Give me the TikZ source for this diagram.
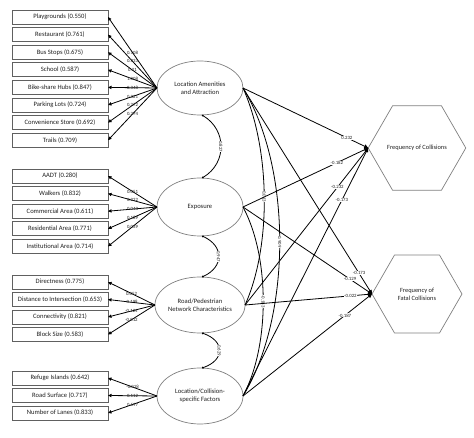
\documentclass[tikz,border=0pt]{standalone}
\usepackage{fontspec}
\setmainfont{Carlito}
\usetikzlibrary{shapes.geometric,arrows.meta}
\definecolor{boxgray}{HTML}{606060}
\definecolor{elgray}{HTML}{808080}
\definecolor{txt}{HTML}{202020}
\begin{document}
\begin{tikzpicture}[x=1pt,y=-1pt,
  box/.style={draw=boxgray,line width=0.75pt,minimum width=96pt,minimum height=14pt,inner sep=0pt,outer sep=0pt,text=txt,font=\fontsize{6.6}{8}\selectfont},
  latent/.style={ellipse,draw=elgray,line width=0.7pt,minimum width=86pt,inner sep=0pt,outer sep=0pt,align=center,text=txt,font=\fontsize{6.6}{8}\selectfont},
  hexa/.style={regular polygon,regular polygon sides=6,minimum size=90pt,draw=elgray,line width=0.7pt,inner sep=0pt,outer sep=0pt,align=center,text=txt,font=\fontsize{6.4}{8}\selectfont},
  meas/.style={draw=black,line width=0.8pt,-{Triangle[length=3.5pt,width=3.2pt]}},
  struct/.style={draw=black,line width=0.8pt,-{Triangle[length=4pt,width=3.8pt]}},
  corr/.style={draw=black,line width=0.8pt,{Circle[open,length=2pt]}-{Circle[open,length=2pt]}},
  rcorr/.style={draw=black,line width=0.8pt},
  lbl/.style={font=\fontsize{4.8}{5}\selectfont,text=txt,inner sep=0.4pt},
  flbl/.style={font=\fontsize{4.8}{5}\selectfont,text=txt,inner sep=0.4pt,fill=white},
  rlbl/.style={font=\fontsize{4.8}{5}\selectfont,text=txt,inner sep=0.4pt,fill=white,rotate=-90}
]
\useasboundingbox (0,0) rectangle (474,438);
\fill[white] (0,0) rectangle (474,438);

% indicator boxes
\node[box] (a1) at (60,17) {Playgrounds (0.550)};
\node[box] (a2) at (60,34.6) {Restaurant (0.761)};
\node[box] (a3) at (60,52.2) {Bus Stops (0.675)};
\node[box] (a4) at (60,69.8) {School (0.587)};
\node[box] (a5) at (60,87.4) {Bike-share Hubs (0.847)};
\node[box] (a6) at (60,105) {Parking Lots (0.724)};
\node[box] (a7) at (60,122.6) {Convenience Store (0.692)};
\node[box] (a8) at (60,140.2) {Trails (0.709)};

\node[box] (e1) at (60,176) {AADT (0.280)};
\node[box] (e2) at (60,193.6) {Walkers (0.832)};
\node[box] (e3) at (60,211.2) {Commercial Area (0.611)};
\node[box] (e4) at (60,228.8) {Residential Area (0.771)};
\node[box] (e5) at (60,246.4) {Institutional Area (0.714)};

\node[box] (r1) at (60,282) {Directness (0.775)};
\node[box] (r2) at (60,299.5) {Distance to Intersection (0.653)};
\node[box] (r3) at (60,317) {Connectivity (0.821)};
\node[box] (r4) at (60,334.5) {Block Size (0.583)};

\node[box] (l1) at (60,378) {Refuge Islands (0.642)};
\node[box] (l2) at (60,395.5) {Road Surface (0.717)};
\node[box] (l3) at (60,413) {Number of Lanes (0.833)};

% latent variables
\node[latent,minimum height=54pt] (LA) at (200,88) {Location Amenities\\and Attraction};
\node[latent,minimum height=58pt] (EX) at (200,207) {Exposure};
\node[latent,minimum height=56pt] (RD) at (200,305) {Road/Pedestrian\\Network Characteristics};
\node[latent,minimum height=56pt] (LC) at (200,396) {Location/Collision-\\specific Factors};

% outcomes
\node[hexa] (H1) at (417,148) {Frequency of Collisions};
\node[hexa] (H2) at (417,294) {Frequency of\\Fatal Collisions};

% measurement arrows
\draw[meas] (LA.west) -- node[lbl]{0.108} (a1.east);
\draw[meas] (LA.west) -- node[lbl]{0.333} (a2.east);
\draw[meas] (LA.west) -- node[lbl]{0.21} (a3.east);
\draw[meas] (LA.west) -- node[lbl]{1.008} (a4.east);
\draw[meas] (LA.west) -- node[lbl]{0.348} (a5.east);
\draw[meas] (LA.west) -- node[lbl]{0.321} (a6.east);
\draw[meas] (LA.west) -- node[lbl]{0.272} (a7.east);
\draw[meas] (LA.west) -- node[lbl]{0.274} (a8.east);

\draw[meas] (EX.west) -- node[lbl]{0.051} (e1.east);
\draw[meas] (EX.west) -- node[lbl]{0.222} (e2.east);
\draw[meas] (EX.west) -- node[lbl]{0.043} (e3.east);
\draw[meas] (EX.west) -- node[lbl]{0.189} (e4.east);
\draw[meas] (EX.west) -- node[lbl]{0.039} (e5.east);

\draw[meas] (RD.west) -- node[lbl]{0.052} (r1.east);
\draw[meas] (RD.west) -- node[lbl]{-0.198} (r2.east);
\draw[meas] (RD.west) -- node[lbl]{-0.124} (r3.east);
\draw[meas] (RD.west) -- node[lbl]{-0.012} (r4.east);

\draw[meas] (LC.west) -- node[lbl]{-0.018} (l1.east);
\draw[meas] (LC.west) -- node[lbl]{0.112} (l2.east);
\draw[meas] (LC.west) -- node[lbl]{0.697} (l3.east);

% left correlations
\draw[corr] (LA.-86) .. controls +(25,15) and +(25,-15) .. node[rlbl]{0.827} (EX.86);
\draw[corr] (EX.-86) .. controls +(22,10) and +(22,-10) .. node[rlbl]{0.947} (RD.86);
\draw[corr] (RD.-86) .. controls +(23,8) and +(23,-8) .. node[rlbl]{0.629} (LC.86);

% right correlations
\draw[rcorr] (LA.east) .. controls +(27,60) and +(27,-60) .. node[rlbl]{0.013} (RD.east);
\draw[rcorr] (LA.east) .. controls +(49,80) and +(49,-80) .. node[rlbl]{0.909} (LC.east);
\draw[rcorr] (EX.east) .. controls +(27,50) and +(27,-50) .. node[rlbl]{-0.183} (LC.east);

% structural paths
\draw[struct] (LA.east) -- node[flbl,pos=0.83]{0.232} (H1.west);
\draw[struct] (EX.east) -- node[flbl,pos=0.75]{-0.182} (H1.west);
\draw[struct] (RD.east) -- node[flbl,pos=0.75]{-0.232} (H1.west);
\draw[struct] (LC.east) -- node[flbl,pos=0.79]{-0.173} (H1.west);

\draw[struct] (LA.east) -- node[flbl,pos=0.9]{-0.173} (H2.west);
\draw[struct] (EX.east) -- node[flbl,pos=0.83]{-0.129} (H2.west);
\draw[struct] (RD.east) -- node[flbl,pos=0.83]{-0.022} (H2.west);
\draw[struct] (LC.east) -- node[flbl,pos=0.79]{-0.187} (H2.west);
\end{tikzpicture}
\end{document}
